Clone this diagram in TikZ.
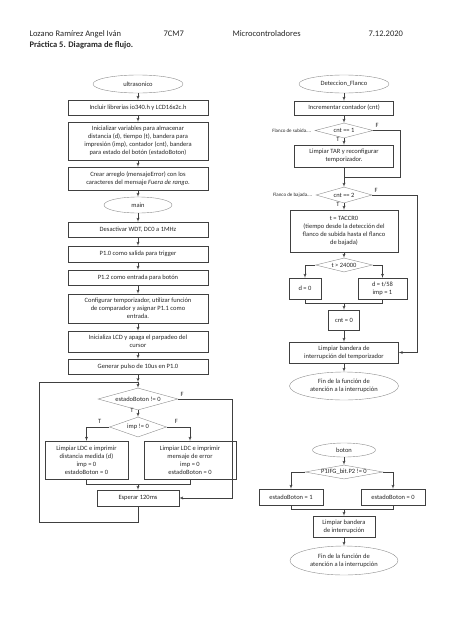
\documentclass[tikz,border=0pt]{standalone}
\usepackage{fontspec}
\setmainfont{Carlito}
\usetikzlibrary{shapes.geometric, arrows}

\begin{document}
\begin{tikzpicture}[x=1pt,y=-1pt]

\tikzset{every node/.style = {font=\fontsize{6.5}{8}\selectfont, text=black!85}}
\tikzset{box/.style = {shape=rectangle,draw=black!75,inner sep=1pt,align=center}}
\tikzset{term/.style = {shape=ellipse,draw=black!45,inner sep=0pt,align=center}}
\tikzset{test/.style = {shape=diamond,draw=black!45,inner sep=0pt,aspect=4}}
\tikzset{edge/.style = {->,> = latex',draw=black!75}}
\tikzset{link/.style = {draw=black!75}}
\tikzset{note/.style = {font=\fontsize{5}{6}\selectfont, anchor=east}}

\useasboundingbox (0,0) rectangle (474,632);

%header
\node[anchor=base west, font=\fontsize{8.5}{10}\selectfont] at (26,36) {Lozano Ramírez Angel Iván};
\node[anchor=base west, font=\fontsize{8.5}{10}\selectfont] at (160,36) {7CM7};
\node[anchor=base west, font=\fontsize{8.5}{10}\selectfont] at (229,36) {Microcontroladores};
\node[anchor=base west, font=\fontsize{8.5}{10}\selectfont] at (365,36) {7.12.2020};
\node[anchor=base west, font=\fontsize{8.5}{10}\selectfont\bfseries] at (26,47) {Práctica 5. Diagrama de flujo.};

%ultrasonico
\node[term, minimum width=90, minimum height=18] (u0) at (138,84) {ultrasonico};
\node[box, minimum width=140, minimum height=15] (b1) at (138,107.5) {Incluir librerias io340.h y LCD16x2c.h};
\node[box, minimum width=140, minimum height=38] (b2) at (138,141) {Inicializar variables para almacenar\\distancia (d), tiempo (t), bandera para\\impresión (imp), contador (cnt), bandera\\para estado del botón (estadoBoton)};
\node[box, minimum width=140, minimum height=23] (b3) at (138,178.5) {Crear arreglo (mensajeError) con los\\caracteres del mensaje \textit{Fuera de rango}.};
\node[term, minimum width=68, minimum height=16] (m0) at (138,205) {main};
\node[box, minimum width=140, minimum height=15] (b4) at (138,229.5) {Desactivar WDT, DC0 a 1MHz};
\node[box, minimum width=140, minimum height=16] (b5) at (138,254) {P1.0 como salida para trigger};
\node[box, minimum width=140, minimum height=15] (b6) at (138,277.5) {P1.2 como entrada para botón};
\node[box, minimum width=140, minimum height=29] (b7) at (138,308.5) {Configurar temporizador, utilizar función\\de comparador y asignar P1.1 como\\entrada.};
\node[box, minimum width=140, minimum height=21] (b8) at (138,341.5) {Inicializa LCD y apaga el parpadeo del\\cursor};
\node[box, minimum width=140, minimum height=15] (b9) at (138,366.5) {Generar pulso de 10us en P1.0};
\coordinate (j0) at (138,382);
\node[test, minimum width=80, minimum height=22, label=center:{estadoBoton != 0}] (d1) at (138,399) {};
\node[test, minimum width=57, minimum height=20, label=center:{imp != 0}] (d2) at (138,427) {};
\node[box, minimum width=83, minimum height=38] (bL) at (86.5,460) {Limpiar LDC e imprimir\\distancia medida (d)\\imp = 0\\estadoBoton = 0};
\node[box, minimum width=92, minimum height=38] (bR) at (190,460) {Limpiar LDC e imprimir\\mensaje de error\\imp = 0\\estadoBoton = 0};
\coordinate (j1) at (138,484);
\node[box, minimum width=82, minimum height=16] (b10) at (138,498) {Esperar 120ms};

\draw[edge] (u0) -- (b1);
\draw[edge] (b1) -- (b2);
\draw[edge] (b2) -- (b3);
\draw[edge] (b3) -- (m0);
\draw[edge] (m0) -- (b4);
\draw[edge] (b4) -- (b5);
\draw[edge] (b5) -- (b6);
\draw[edge] (b6) -- (b7);
\draw[edge] (b7) -- (b8);
\draw[edge] (b8) -- (b9);
\draw[edge] (b9) -- (j0);
\draw[edge] (j0) -- (d1);
\draw[edge] (d1) -- (d2) node [pos=0.1, left=1pt] {T};
\draw[edge] (d1.east) -- ++(54,0) node [pos=0, above right=-1pt] {F} |- (b10.east);
\draw[edge] (d2.west) -| (bL.north) node [pos=0.1, above left=0pt] {T};
\draw[edge] (d2.east) -| (bR.north) node [pos=0.1, above right=0pt] {F};
\draw[link] (bL.south) |- (j1);
\draw[link] (bR.south) |- (j1);
\draw[edge] (j1) -- (b10);
\draw[link] (b10.south) |- (39,522) |- (j0);

%Deteccion_Flanco
\node[term, minimum width=90, minimum height=18] (f0) at (344,84) {Deteccion\_Flanco};
\node[box, minimum width=99, minimum height=14] (r1) at (344,108) {Incrementar contador (cnt)};
\node[test, minimum width=58, minimum height=15, label=center:{cnt == 1}] (e1) at (344,130.5) {};
\node[box, minimum width=99, minimum height=22] (r2) at (344,156) {Limpiar TAR y reconfigurar\\temporizador.};
\coordinate (j2) at (344,177);
\node[test, minimum width=56, minimum height=16, label=center:{cnt == 2}] (e2) at (344,195) {};
\node[box, minimum width=108, minimum height=42] (r3) at (344,231) {t = TACCR0\\(tiempo desde la detección del\\flanco de subida hasta el flanco\\de bajada)};
\node[test, minimum width=57, minimum height=14, label=center:{t > 24000}] (e3) at (344,265) {};
\node[box, minimum width=32, minimum height=21] (r4a) at (305,288.5) {d = 0};
\node[box, minimum width=49, minimum height=21] (r4b) at (382.5,288.5) {d = t/58\\imp = 1};
\coordinate (j3) at (344,303);
\node[box, minimum width=31, minimum height=20] (r4) at (344,320) {cnt = 0};
\node[box, minimum width=109, minimum height=21] (r5) at (344,352.5) {Limpiar bandera de\\interrupción del temporizador};
\node[term, minimum width=109, minimum height=28] (f1) at (344,386) {Fin de la función de\\atención a la interrupción};
\node[note] at (e1.west) {Flanco de subida....};
\node[note] at (e2.west) {Flanco de bajada....};

\draw[edge] (f0) -- (r1);
\draw[edge] (r1) -- (e1);
\draw[edge] (e1) -- (r2) node [pos=0.15, left=1pt] {T};
\draw[link] (e1.east) -- ++(27,0) node [pos=0, above right=-1pt] {F} |- (j2);
\draw[link] (r2) -- (j2);
\draw[edge] (j2) -- (e2);
\draw[edge] (e2.east) -- ++(45,0) node [pos=0, above right=-1pt] {F} |- (r5.east);
\draw[edge] (e2) -- (r3) node [pos=0.15, left=1pt] {T};
\draw[edge] (r3) -- (e3);
\draw[edge] (e3.west) -| (r4a.north);
\draw[edge] (e3.east) -| (r4b.north);
\draw[link] (r4a.south) |- (j3);
\draw[link] (r4b.south) |- (j3);
\draw[edge] (j3) -- (r4);
\draw[edge] (r4) -- (r5);
\draw[edge] (r5) -- (f1);

%boton
\node[term, minimum width=63, minimum height=14] (g0) at (344,450) {boton};
\node[test, minimum width=78, minimum height=14, label=center:{P1IFG\_bit.P2 != 0}] (e4) at (344,472) {};
\node[box, minimum width=64, minimum height=16] (s1) at (291,497) {estadoBoton = 1};
\node[box, minimum width=64, minimum height=16] (s2) at (393,497) {estadoBoton = 0};
\coordinate (j4) at (344,509);
\node[box, minimum width=62, minimum height=21] (s3) at (344,526.5) {Limpiar bandera\\de interrupción};
\node[term, minimum width=108, minimum height=29] (g1) at (344,560.5) {Fin de la función de\\atención a la interrupción};

\draw[edge] (g0) -- (e4);
\draw[edge] (e4.west) -| (s1.north);
\draw[edge] (e4.east) -| (s2.north);
\draw[link] (s1.south) |- (j4);
\draw[link] (s2.south) |- (j4);
\draw[edge] (j4) -- (s3);
\draw[edge] (s3) -- (g1);

\end{tikzpicture}
\end{document}
